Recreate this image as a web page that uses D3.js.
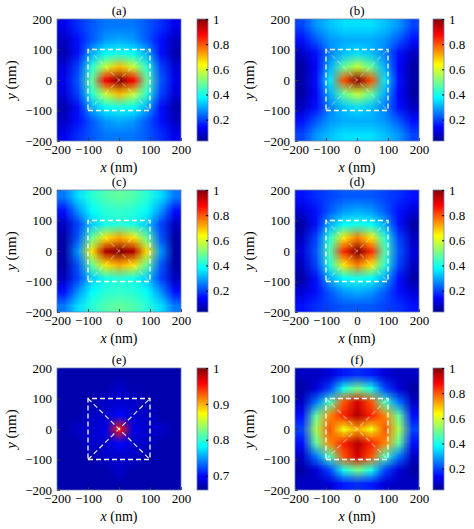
<!DOCTYPE html>
<html><head><meta charset="utf-8">
<script src="https://cdn.jsdelivr.net/npm/d3@7"></script>
<style>body{margin:0;background:#fff}</style>
</head><body>
<svg id="fig" width="474" height="529"></svg>
<script>
// grid points at x,y = -200..200 step 50; rows listed top (y=200) to bottom (y=-200)
const gridX = [-200,-150,-100,-50,0,50,100,150,200];
const panelLabels = ["(a)","(b)","(c)","(d)","(e)","(f)"];
const axisTicks = [-200,-100,0,100,200];

const fieldA = [
  [.12,.18,.22,.25,.25,.25,.22,.18,.12],
  [.08,.15,.22,.28,.30,.28,.22,.15,.08],
  [.06,.15,.30,.38,.40,.38,.30,.15,.06],
  [.10,.20,.42,.58,.70,.58,.42,.20,.10],
  [.12,.22,.48,.88,1.0,.88,.48,.22,.12],
  [.10,.20,.42,.58,.70,.58,.42,.20,.10],
  [.06,.15,.30,.38,.40,.38,.30,.15,.06],
  [.08,.15,.22,.28,.30,.28,.22,.15,.08],
  [.12,.18,.22,.25,.25,.25,.22,.18,.12]];
const fieldB = [
  [.20,.28,.32,.35,.35,.35,.32,.28,.20],
  [.15,.22,.28,.30,.30,.30,.28,.22,.15],
  [.08,.15,.26,.32,.35,.32,.26,.15,.08],
  [.05,.14,.30,.48,.58,.48,.30,.14,.05],
  [.05,.15,.36,.80,1.0,.80,.36,.15,.05],
  [.05,.14,.30,.48,.58,.48,.30,.14,.05],
  [.08,.15,.26,.32,.35,.32,.26,.15,.08],
  [.15,.22,.28,.30,.30,.30,.28,.22,.15],
  [.20,.28,.32,.35,.35,.35,.32,.28,.20]];
const fieldC = [
  [.25,.35,.42,.46,.48,.46,.42,.35,.25],
  [.15,.28,.38,.42,.43,.42,.38,.28,.15],
  [.08,.20,.33,.40,.42,.40,.33,.20,.08],
  [.05,.22,.48,.66,.72,.66,.48,.22,.05],
  [.05,.28,.66,.95,1.0,.95,.66,.28,.05],
  [.05,.22,.48,.66,.72,.66,.48,.22,.05],
  [.08,.20,.33,.40,.42,.40,.33,.20,.08],
  [.15,.28,.38,.42,.43,.42,.38,.28,.15],
  [.25,.35,.42,.46,.48,.46,.42,.35,.25]];
const fieldD = [
  [.15,.18,.20,.22,.22,.22,.20,.18,.15],
  [.10,.15,.22,.28,.30,.28,.22,.15,.10],
  [.05,.15,.30,.38,.40,.38,.30,.15,.05],
  [.08,.20,.42,.66,.76,.66,.42,.20,.08],
  [.10,.22,.46,.84,1.0,.84,.46,.22,.10],
  [.08,.20,.42,.66,.76,.66,.42,.20,.08],
  [.05,.15,.30,.38,.40,.38,.30,.15,.05],
  [.10,.15,.22,.28,.30,.28,.22,.15,.10],
  [.15,.18,.20,.22,.22,.22,.20,.18,.15]];
const fieldE = [
  [.67,.67,.67,.67,.67,.67,.67,.67,.67],
  [.67,.67,.67,.67,.68,.67,.67,.67,.67],
  [.67,.67,.67,.68,.68,.68,.67,.67,.67],
  [.67,.67,.68,.68,.70,.68,.68,.67,.67],
  [.67,.68,.68,.69,.95,.69,.68,.68,.67],
  [.67,.67,.68,.68,.70,.68,.68,.67,.67],
  [.67,.67,.67,.68,.68,.68,.67,.67,.67],
  [.67,.67,.67,.67,.68,.67,.67,.67,.67],
  [.67,.67,.67,.67,.67,.67,.67,.67,.67]];
const fieldF = [
  [.08,.08,.10,.16,.18,.16,.10,.08,.08],
  [.05,.10,.20,.40,.50,.40,.20,.10,.05],
  [.08,.25,.45,.80,.92,.80,.45,.25,.08],
  [.15,.48,.75,.85,.95,.85,.75,.48,.15],
  [.20,.55,.80,.62,.72,.62,.80,.55,.20],
  [.15,.48,.75,.85,.95,.85,.75,.48,.15],
  [.08,.25,.45,.80,.92,.80,.45,.25,.08],
  [.05,.10,.20,.40,.50,.40,.20,.10,.05],
  [.08,.08,.10,.16,.18,.16,.10,.08,.08]];
const fields = [fieldA,fieldB,fieldC,fieldD,fieldE,fieldF];
const colorDomains = [[0.03,1],[0.03,1],[0.03,1],[0.03,1],[0.66,1],[0.03,1]];
const cbTicks = [[.2,.4,.6,.8,1],[.2,.4,.6,.8,1],[.2,.4,.6,.8,1],[.2,.4,.6,.8,1],[.7,.8,.9,1],[.2,.4,.6,.8,1]];
const diagOpacity = [0.35,0.35,0.35,0.35,0.9,0.45];

const jetStops = [0,0.11,0.36,0.625,0.875,1];
const jetCols = ["#00008f","#0000ff","#00ffff","#ffff00","#ff0000","#800000"];
const jet = d3.scaleLinear().domain(jetStops).range(jetCols).clamp(true);

const FONT = "'Liberation Serif','Times New Roman',Times,serif";
const svg = d3.select("#fig");
const colX = [57,295], rowY = [19,190,368];
const W = 124, H = 122;

fields.forEach((f,k)=>{
  const px = colX[k%2], py = rowY[Math.floor(k/2)];
  const g = svg.append("g").attr("transform",`translate(${px},${py})`);
  const x = d3.scaleLinear().domain([-200,200]).range([0,W]);
  const y = d3.scaleLinear().domain([-200,200]).range([H,0]);
  const norm = d3.scaleLinear().domain(colorDomains[k]).range([0,1]);

  // small image of grid values, stretched smoothly
  const cv = document.createElement("canvas");
  cv.width = gridX.length; cv.height = gridX.length;
  const ctx = cv.getContext("2d");
  f.forEach((row,r)=>row.forEach((v,c)=>{
    ctx.fillStyle = jet(norm(v));
    ctx.fillRect(c,r,1,1);
  }));
  g.append("image").attr("href",cv.toDataURL())
    .attr("x",0).attr("y",0).attr("width",W).attr("height",H)
    .attr("preserveAspectRatio","none");

  // dashed square and diagonals
  const sq = [[-100,-100],[100,-100],[100,100],[-100,100],[-100,-100]];
  g.append("path").attr("d",d3.line().x(d=>x(d[0])).y(d=>y(d[1]))(sq))
    .attr("fill","none").attr("stroke","#fff").attr("stroke-width",1.3).attr("stroke-dasharray","5,3");
  [[[-100,-100],[100,100]],[[-100,100],[100,-100]]].forEach(l=>{
    g.append("line").attr("x1",x(l[0][0])).attr("y1",y(l[0][1])).attr("x2",x(l[1][0])).attr("y2",y(l[1][1]))
      .attr("stroke","#fff").attr("stroke-width",1.2).attr("stroke-dasharray","5,3").attr("opacity",diagOpacity[k]);
  });

  g.append("g").attr("transform",`translate(0,${H})`)
    .call(d3.axisBottom(x).tickValues(axisTicks).tickSize(-3).tickPadding(4))
    .call(a=>a.select(".domain").remove());
  g.append("g").call(d3.axisLeft(y).tickValues(axisTicks).tickSize(-3).tickPadding(5))
    .call(a=>a.select(".domain").remove());
  g.selectAll(".tick line").attr("stroke","#333");
  g.append("rect").attr("width",W).attr("height",H).attr("fill","none").attr("stroke","#6a7fb0").attr("stroke-width",0.8);

  g.append("text").attr("x",W/2).attr("y",-4).attr("text-anchor","middle").text(panelLabels[k]);
  const xl = g.append("text").attr("x",W/2).attr("y",H+31).attr("text-anchor","middle").attr("font-size",14);
  xl.append("tspan").attr("font-style","italic").text("x");
  xl.append("tspan").text(" (nm)");
  const yl = g.append("text").attr("transform",`translate(-41,${H/2}) rotate(-90)`).attr("text-anchor","middle").attr("font-size",15);
  yl.append("tspan").attr("font-style","italic").text("y");
  yl.append("tspan").text(" (nm)");

  // colorbar
  const cbx = (k%2 ? 433 : 197) - px, cbw = 11;
  const gid = "cb"+k;
  const grad = svg.append("defs").append("linearGradient").attr("id",gid)
    .attr("x1",0).attr("y1",1).attr("x2",0).attr("y2",0);
  jetStops.forEach((s,i)=>grad.append("stop").attr("offset",s).attr("stop-color",jetCols[i]));
  g.append("rect").attr("x",cbx).attr("width",cbw).attr("height",H).attr("fill",`url(#${gid})`)
    .attr("stroke","#6a7fb0").attr("stroke-width",0.8);
  const cy = d3.scaleLinear().domain(colorDomains[k]).range([H,0]);
  g.append("g").attr("transform",`translate(${cbx+cbw},0)`)
    .call(d3.axisRight(cy).tickValues(cbTicks[k]).tickFormat(d3.format("~g")).tickSize(-2).tickPadding(5))
    .call(a=>a.select(".domain").remove());
});
svg.selectAll("g").attr("font-family",null).attr("font-size",null);
svg.selectAll("text").attr("font-family",FONT).attr("fill","#000")
  .each(function(){ if(!this.getAttribute("font-size")) this.setAttribute("font-size",13); });
</script>
</body></html>
